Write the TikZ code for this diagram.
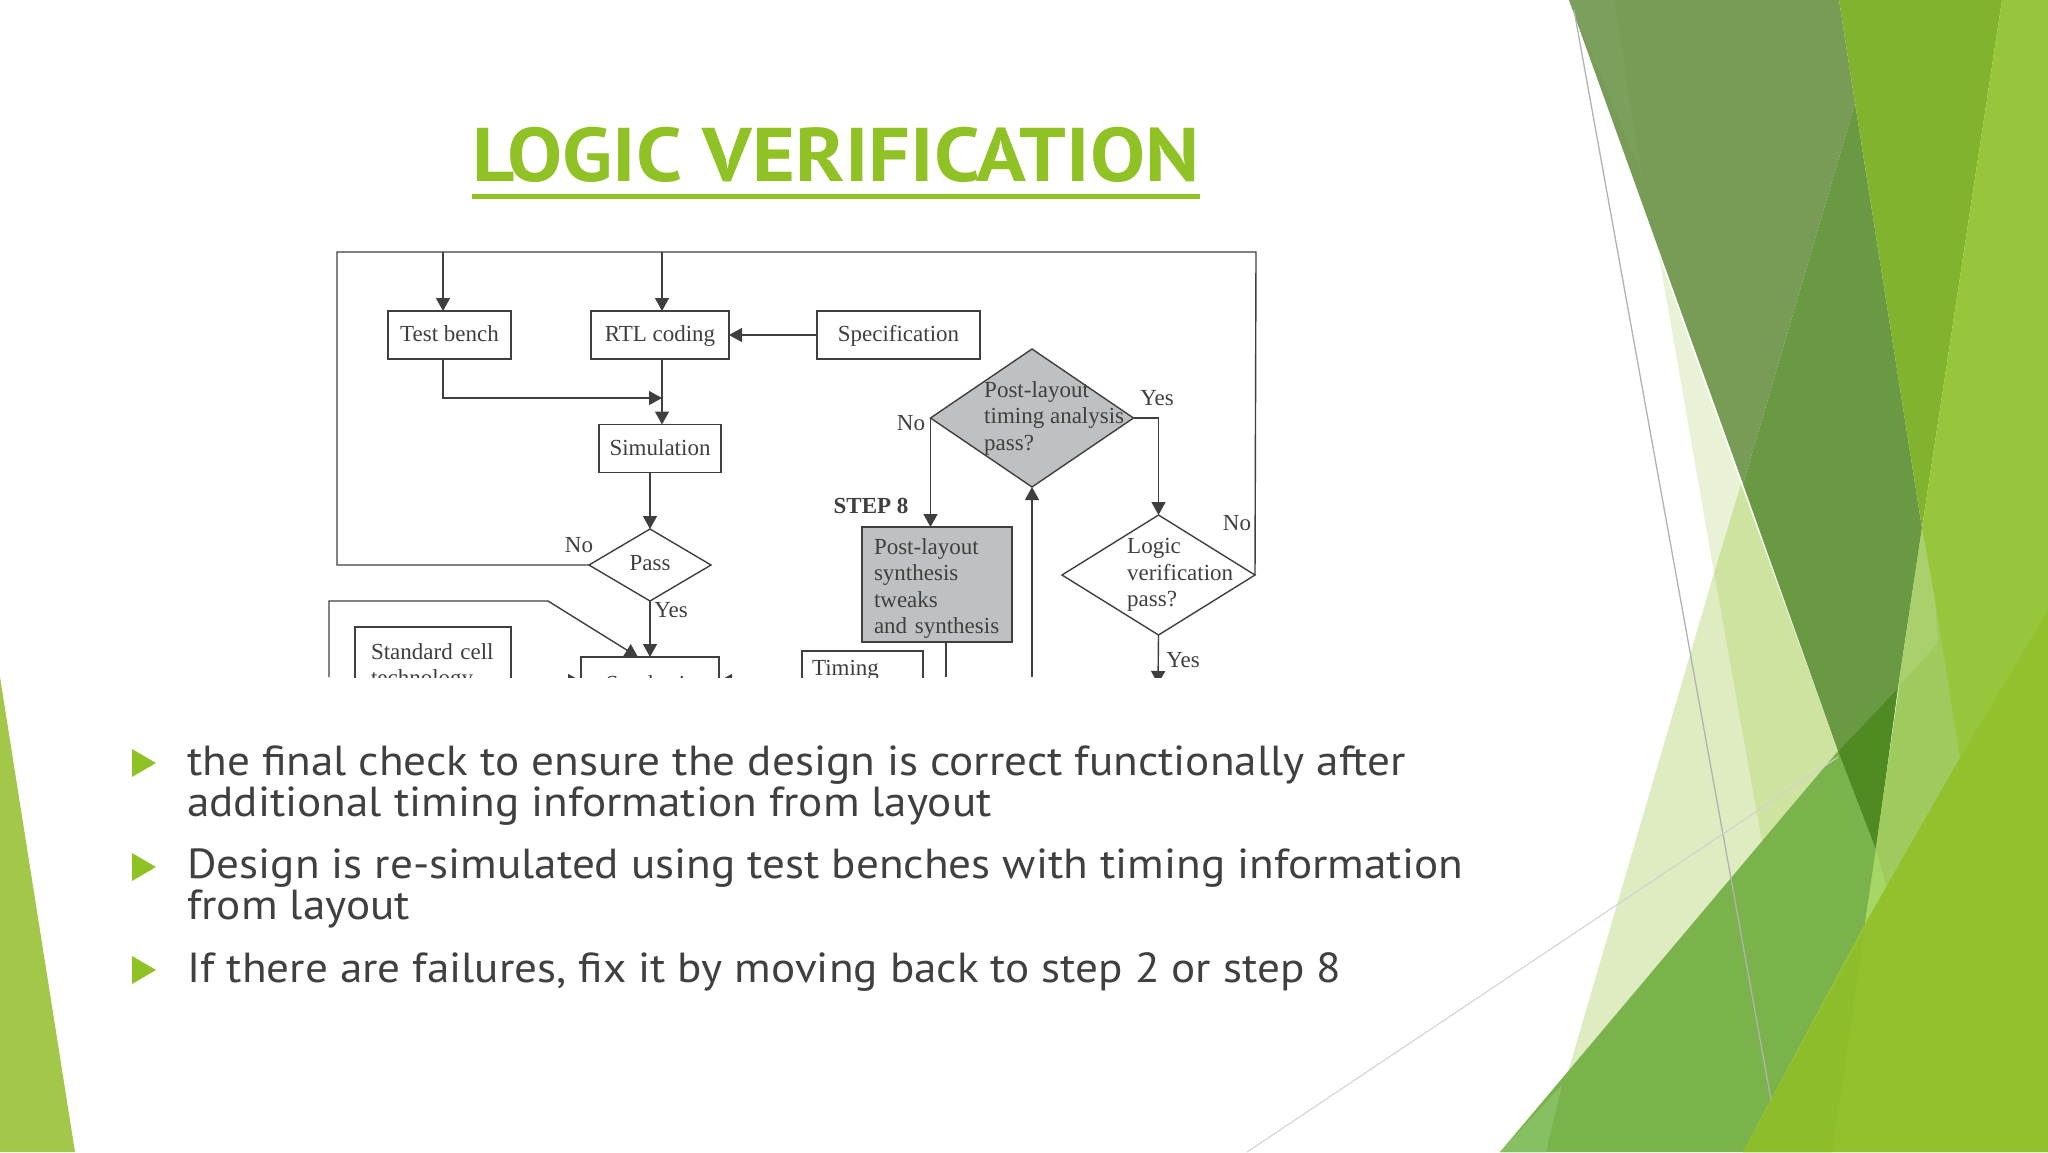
\documentclass[tikz,border=0pt]{standalone}
\usepackage{fontspec}
\setmainfont{Liberation Serif}
\newfontfamily\slidefont[FakeStretch=1.075]{PT Sans}
\newfontfamily\titlefont[FakeStretch=1.084]{PT Sans}
\usetikzlibrary{arrows.meta,shapes.geometric}

\definecolor{slidegreen}{HTML}{90C226}
\definecolor{slidetext}{HTML}{404040}
\definecolor{flowink}{HTML}{3F3F3F}
\definecolor{flowgray}{HTML}{BEC0C2}
\definecolor{facetleft}{HTML}{A3C849}
\definecolor{facetpale}{HTML}{E9F1D7}
\definecolor{facetsoft}{HTML}{DFEBC0}
\definecolor{facetmix}{HTML}{CFE3A0}
\definecolor{facetleaf}{HTML}{7AB24C}
\definecolor{facetedge}{HTML}{88BF62}
\definecolor{facetdeep}{HTML}{4F8B22}
\definecolor{facetolive}{HTML}{789C56}
\definecolor{facetsage}{HTML}{7AA05C}
\definecolor{facetmoss}{HTML}{6A9944}
\definecolor{facetgrass}{HTML}{82B32E}
\definecolor{facetlime}{HTML}{97C63C}
\definecolor{facetlimelow}{HTML}{92C12D}
\definecolor{facetlimedark}{HTML}{8DBD2B}
\definecolor{facetwedge}{HTML}{9FCA5E}
\definecolor{facetwedgetop}{HTML}{A9D06C}
\definecolor{facetwedgelow}{HTML}{A6D666}

\tikzset{
  flow/.style={draw=flowink,line width=1.4pt},
  flowarrow/.style={flow,-{Triangle[width=14pt,length=13pt]}},
  flowtext/.style={text=flowink,inner sep=0pt,font=\fontsize{23}{26.5}\selectfont},
  stepbox/.style={flow,flowtext,outer sep=0pt,inner sep=0pt,minimum height=48pt},
  lineonebox/.style={stepbox,text height=17pt,text depth=4pt},
  leftbox/.style={stepbox,align=left,inner xsep=#1},
  passdiamond/.style={flow,diamond,inner sep=0pt,outer sep=0pt},
  bodyline/.style={anchor=base west,inner sep=0pt,text=slidetext,font=\slidefont\fontsize{42}{42}\selectfont},
}

\begin{document}
\begin{tikzpicture}[x=1pt,y=-1pt]
  \useasboundingbox (0,0) rectangle (2048,1152);
  \fill[white] (0,0) rectangle (2048,1152);

  % facets
  \fill[facetleft] (0,677)--(75,1152)--(0,1152)--cycle;
  \fill[facetpale] (1659,256)--(1714,573)--(1741,484)--cycle;
  \fill[facetsoft] (1714,573)--(1568,1072)--(1762,843)--cycle;
  \fill[facetmix] (1741,484)--(1714,573)--(1762,843)--(1838,751)--cycle;
  \fill[facetleaf] (1838,751)--(1876,850)--(1865,924)--(1743,1152)--(1500,1152)--cycle;
  \fill[facetedge] (1500,1152)--(1546,1152)--(1562,1085)--cycle;
  \fill[facetolive] (1569,0)--(1839,0)--(1855,103)--(1743,484)--cycle;
  \fill[facetsage] (1569,0)--(1614,0)--(1645,195)--(1640,170)--cycle;
  \fill[facetmoss] (1743,484)--(1855,103)--(1922,528)--(1898,688)--(1838,751)--cycle;
  \fill[facetdeep] (1838,751)--(1898,688)--(1876,850)--cycle;
  \fill[facetgrass] (1839,0)--(2002,0)--(1922,528)--(1855,103)--cycle;
  \fill[facetlime] (2002,0)--(2048,0)--(2048,1152)--(1743,1152)--(1865,924)--(1922,528)--cycle;
  \fill[facetwedge] (1922,528)--(1935,600)--(1960,758)--(1865,924)--cycle;
  \fill[facetwedgetop] (1922,528)--(1935,600)--(1938,642)--(1898,688)--cycle;
  \fill[facetwedgelow] (1876,850)--(1887,889)--(1865,924)--cycle;
  \fill[facetlimelow] (2048,610)--(1960,758)--(1865,924)--(1743,1152)--(2048,1152)--cycle;
  \fill[facetlimedark] (1743,1152)--(1832,1152)--(1865,930)--cycle;
  \draw[black!30,line width=1.3pt] (1574,10)--(1771,1100);
  \draw[black!18,line width=1pt] (1247,1152)--(1838,757);

  % title
  \node[inner sep=0pt,anchor=base,text=slidegreen,font=\titlefont\bfseries\fontsize{76}{76}\selectfont] (title) at (836,181) {LOGIC VERIFICATION};
  \draw[slidegreen,line width=5pt] ([yshift=-15pt]title.base west)--([yshift=-15pt]title.base east);

  % flow chart, cut off at the bottom
  \begin{scope}
    \clip (320,240) rectangle (1280,677);
    \node[lineonebox,minimum width=123pt] (testbench) at (449.5,335) {Test bench};
    \node[lineonebox,minimum width=138pt] (rtl) at (660,335) {RTL coding};
    \node[lineonebox,minimum width=163pt] (spec) at (898.5,335) {Specification};
    \node[lineonebox,minimum width=122pt] (sim) at (660,448.5) {Simulation};
    \node[passdiamond,minimum width=122pt,minimum height=72pt] (pass) at (650,565) {};
    \node[flowtext] (passtext) at (650,563) {Pass};
    \node[leftbox=16pt,text width=124pt,minimum height=80pt] (stdcell) at (433,667) {Standard cell\\technology};
    \node[lineonebox,minimum width=138pt,minimum height=56pt] (synth) at (650,685) {Synthesis};
    \node[leftbox=10pt,text width=101pt,minimum height=38pt] (timing) at (862.5,670) {Timing};
    \node[leftbox=12pt,text width=126pt,minimum height=115pt,fill=flowgray] (postsynth) at (937,584.5) {\rule{0pt}{24pt}Post-layout\\synthesis\\tweaks\\and synthesis};
    \node[passdiamond,fill=flowgray,minimum width=203pt,minimum height=138pt] (postpass) at (1032,418) {};
    \node[flowtext,anchor=west,align=left] (postpasstext) at (984,418) {Post-layout\\timing analysis\\pass?};
    \node[passdiamond,minimum width=193pt,minimum height=120pt] (logic) at (1158.5,575) {};
    \node[flowtext,anchor=west,align=left] (logictext) at (1127,575) {Logic\\verification\\pass?};

    \node[flowtext] (nopass) at (579,545) {No};
    \node[flowtext] (yespass) at (671,610) {Yes};
    \node[flowtext] (nopost) at (911,423) {No};
    \node[flowtext] (yespost) at (1157,398) {Yes};
    \node[flowtext] (nologic) at (1237,523) {No};
    \node[flowtext] (yeslogic) at (1183,660) {Yes};
    \node[flowtext,font=\fontsize{23}{26.5}\selectfont\bfseries] (stepeight) at (871,506) {STEP 8};

    \coordinate (topleft) at (337,252);
    \coordinate (topright) at (1256,252);
    \coordinate (tbin) at (443,252);
    \coordinate (rtlin) at (662,252);
    \coordinate (rtljoin) at (662,398);
    \coordinate (bendin) at (329,677);
    \coordinate (bendtop) at (329,601);
    \coordinate (bendknee) at (548,601);
    \coordinate (bendtip) at (638,657);
    \coordinate (synthleft) at (581,681);
    \coordinate (synthright) at (719,681);
    \coordinate (postdown) at (946,677);
    \coordinate (postup) at (1032,677);
    \coordinate (logicdown) at (1158,684);

    \draw[flow] (pass.west)-|(topleft)--(topright)--(logic.east);
    \draw[flowarrow] (tbin)--(tbin|-testbench.north);
    \draw[flowarrow] (rtlin)--(rtlin|-rtl.north);
    \draw[flowarrow] (spec.west)--(rtl.east);
    \draw[flowarrow] (tbin|-testbench.south)|-(rtljoin);
    \draw[flowarrow] (rtlin|-rtl.south)--(rtlin|-sim.north);
    \draw[flowarrow] (pass.north|-sim.south)--(pass.north);
    \draw[flowarrow] (pass.south)--(pass.south|-synth.north);
    \draw[flowarrow] (bendin)--(bendtop)--(bendknee)--(bendtip);
    \draw[flowarrow] (stdcell.east|-synthleft)--(synthleft);
    \draw[flowarrow] (timing.west|-synthright)--(synthright);
    \draw[flowarrow] (postpass.west)--(postpass.west|-postsynth.north);
    \draw[flowarrow] (postpass.east)-|(logic.north);
    \draw[flowarrow] (logic.south)--(logicdown);
    \draw[flow] (postdown|-postsynth.south)--(postdown);
    \draw[flowarrow] (postup)--(postpass.south);
  \end{scope}

  % bullets
  \foreach \ypos in {763,867,970} {
    \fill[slidegreen] (132,\ypos-14)--(156,\ypos)--(132,\ypos+14)--cycle;
  }
  \node[bodyline] (lineone) at (187,775) {the final check to ensure the design is correct functionally after};
  \node[bodyline] (linetwo) at (187,816) {additional timing information from layout};
  \node[bodyline] (linethree) at (187,878) {Design is re-simulated using test benches with timing information};
  \node[bodyline] (linefour) at (187,919) {from layout};
  \node[bodyline] (linefive) at (187,982) {If there are failures, fix it by moving back to step 2 or step 8};
\end{tikzpicture}
\end{document}
